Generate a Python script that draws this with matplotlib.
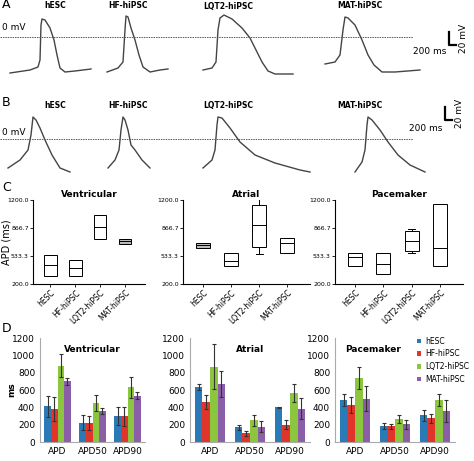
import matplotlib
matplotlib.use("Agg")
import matplotlib.pyplot as plt
import numpy as np

W, H = 474, 461
groups = ["hESC", "HF-hiPSC", "LQT2-hiPSC", "MAT-hiPSC"]
types = ["Ventricular", "Atrial", "Pacemaker"]
measures = ["APD", "APD50", "APD90"]
colors = ["#2a7ab8", "#e0352b", "#8cc63f", "#8b5ea8"]

# Traces (A, B) in pixel coordinates (x, y)
traceA = {
    "hESC": [(10,73),(30,70),(38,67),(40,60),(41,25),(42,19),(45,20),(50,28),(54,40),(57,55),(60,68),(65,72),(75,71),(91,69)],
    "HF-hiPSC": [(107,72),(118,68),(123,62),(125,30),(126,16),(128,17),(131,28),(135,40),(139,55),(143,67),(150,72),(160,70),(168,69)],
    "LQT2-hiPSC": [(203,70),(212,68),(216,62),(218,30),(220,18),(224,15),(232,19),(242,28),(250,38),(256,50),(262,62),(268,71),(275,74),(293,74)],
    "MAT-hiPSC": [(325,64),(335,62),(340,55),(343,30),(345,17),(348,18),(355,25),(362,40),(368,55),(374,65),(382,72),(395,72),(420,70)],
}
traceB = {
    "hESC": [(8,168),(20,160),(28,150),(31,135),(33,117),(36,120),(40,128),(45,140),(52,155),(60,168),(70,172)],
    "HF-hiPSC": [(108,168),(115,160),(119,150),(121,130),(123,117),(125,120),(128,130),(131,145),(135,150),(142,160),(150,168)],
    "LQT2-hiPSC": [(203,168),(212,160),(215,150),(217,125),(218,117),(222,118),(230,128),(240,142),(255,155),(275,163),(300,170),(310,172)],
    "MAT-hiPSC": [(355,172),(362,162),(365,150),(367,125),(368,117),(372,120),(380,130),(388,142),(398,155),(410,165),(425,172)],
}
titleA_x = [55, 128, 228, 360]
titleB_x = [55, 128, 228, 360]

# Panel C box stats: (whislo, q1, med, q3, whishi)
box_stats = {
    "Ventricular": [(299,299,429,544,544),(291,291,390,489,489),(738,738,876,1022,1022),(678,678,706,730,730)],
    "Atrial": [(633,633,660,688,688),(414,414,470,569,569),(557,636,902,1140,1220),(569,569,688,743,743)],
    "Pacemaker": [(419,419,525,569,569),(319,319,442,569,569),(569,589,712,835,859),(419,419,629,1152,1152)],
}
box_fill = {"Ventricular": [None, None, None, "#bbbbbb"], "Atrial": ["#bbbbbb", None, None, None], "Pacemaker": [None]*4}

# Panel D means and errors [group][measure]
means = {
    "Ventricular": [[410,225,300],[380,220,295],[880,450,630],[700,355,535]],
    "Atrial": [[640,170,400],[460,100,200],[870,250,565],[665,175,385]],
    "Pacemaker": [[485,180,310],[425,180,275],[740,270,485],[500,205,360]],
}
errs = {
    "Ventricular": [[120,90,105],[140,85,110],[130,95,120],[40,35,40]],
    "Atrial": [[35,30,5],[80,25,55],[260,65,100],[150,65,125]],
    "Pacemaker": [[70,35,65],[90,30,50],[130,45,70],[145,50,125]],
}

fig = plt.figure(figsize=(W/100, H/100), dpi=100)

def ax_px(x0, y0, x1, y1, **kw):
    return fig.add_axes([x0/W, 1-y1/H, (x1-x0)/W, (y1-y0)/H], **kw)

# Overlay for traces in pixel coordinates
ov = ax_px(0, 0, W, H)
ov.set_xlim(0, W); ov.set_ylim(H, 0); ov.axis("off")
for tr, tx, ty, dl, lab0, sb in [(traceA, titleA_x, 6, 37, 28, (449, 32, 45, 52)),
                                  (traceB, titleB_x, 105, 139, 132, (445, 107, 120, 128))]:
    for (g, pts), x in zip(tr.items(), tx):
        p = np.array(pts)
        ov.plot(p[:,0], p[:,1], color="#444444", lw=1.0, solid_joinstyle="round")
        ov.text(x, ty, g, fontsize=5.5, fontweight="bold", ha="center", va="center")
    ov.plot([0, 413], [dl, dl], ls=(0,(1.5,1)), color="#555555", lw=0.7)
    ov.text(2, lab0, "0 mV", fontsize=6.5, va="center")
    sx, sy0, sy1, ly = sb
    ov.plot([sx, sx, sx+7], [sy0, sy1, sy1], color="black", lw=1.6)
    ov.text(sx+10, (sy0+sy1)/2, "20 mV", rotation=90, fontsize=6.5, va="center", ha="left")
    ov.text(sx-3, ly, "200 ms", fontsize=6.5, ha="right", va="center")
ov.text(2, 5, "A", fontsize=9, va="center")
ov.text(2, 102, "B", fontsize=9, va="center")
ov.text(2, 187, "C", fontsize=9, va="center")
ov.text(2, 328, "D", fontsize=9, va="center")
ov.text(7, 242, "APD (ms)", rotation=90, fontsize=7, ha="center", va="center")
ov.text(12, 390, "ms", rotation=90, fontsize=6.5, fontweight="bold", ha="center", va="center")

# Panel C
cpos = [(33, 200, 145, 284), (183, 200, 310, 284), (335, 200, 463, 284)]
for t, pos in zip(types, cpos):
    ax = ax_px(*pos)
    stats = [dict(whislo=s[0], q1=s[1], med=s[2], q3=s[3], whishi=s[4], label=g)
             for s, g in zip(box_stats[t], groups)]
    bp = ax.bxp(stats, showfliers=False, widths=0.5, patch_artist=True,
                boxprops=dict(lw=0.7), medianprops=dict(color="black", lw=0.7),
                whiskerprops=dict(lw=0.7), capprops=dict(lw=0.7))
    for b, fc in zip(bp["boxes"], box_fill[t]):
        b.set_facecolor(fc if fc else "white")
    ax.set_ylim(200, 1200)
    ax.set_yticks([200, 533.3, 866.7, 1200])
    ax.set_yticklabels(["200.0", "533.3", "866.7", "1200.0"], fontsize=4.5)
    ax.set_xticks(range(1, 5))
    ax.set_xticklabels(groups, rotation=45, ha="right", fontsize=5.5, rotation_mode="anchor")
    ax.set_xlim(0.3, 4.8)
    for s in ["top", "right"]:
        ax.spines[s].set_visible(False)
    ax.tick_params(length=2, width=0.6, pad=1)
    ax.set_title(t, fontsize=6.5, fontweight="bold", pad=2)

# Panel D
dpos = [(40, 338, 145, 442), (190, 338, 310, 442), (335, 338, 455, 442)]
x = np.arange(3)
bw = 0.19
for t, pos in zip(types, dpos):
    ax = ax_px(*pos)
    for i, g in enumerate(groups):
        ax.bar(x + (i-1.5)*bw, means[t][i], bw, yerr=errs[t][i], color=colors[i], label=g,
               error_kw=dict(lw=0.8, capsize=1.5, capthick=0.8, ecolor="#333333"))
    ax.set_ylim(0, 1200)
    ax.set_yticks(range(0, 1201, 200))
    ax.tick_params(labelsize=6.5, length=0)
    ax.set_xticks(x); ax.set_xticklabels(measures, fontsize=6.5)
    ax.set_xlim(-0.5, 2.5)
    for s in ["top", "right"]:
        ax.spines[s].set_visible(False)
    ax.spines["left"].set_color("#aaaaaa"); ax.spines["bottom"].set_color("#aaaaaa")
    ax.text(0.5 if t != "Pacemaker" else 0.32, 0.87, t, transform=ax.transAxes, ha="center",
            fontsize=6.5, fontweight="bold")
    if t == "Pacemaker":
        ax.legend(loc="upper right", bbox_to_anchor=(1.18, 1.08), fontsize=5.5, frameon=False,
                  handlelength=0.5, handleheight=0.5, labelspacing=0.5, handletextpad=0.6)

fig.savefig("out.png", dpi=100)
